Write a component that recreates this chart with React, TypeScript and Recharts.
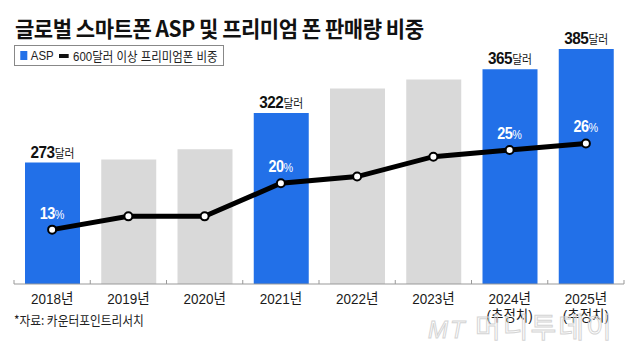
import {
  ComposedChart,
  Bar,
  Line,
  XAxis,
  YAxis,
  Cell,
  LabelList,
} from "recharts";

const years = ["2018년", "2019년", "2020년", "2021년", "2022년", "2023년", "2024년", "2025년"];
const yearNotes = ["", "", "", "", "", "", "(추정치)", "(추정치)"];
const aspValues = [273, 276, 286, 322, 346, 355, 365, 385];
const premiumShare = [13, 15, 15, 20, 21, 24, 25, 26];
const highlighted = [true, false, false, true, false, false, true, true];

const data = years.map((year, i) => ({
  year,
  asp: aspValues[i],
  share: premiumShare[i],
}));

const BLUE = "#2270e8";
const GRAY = "#d9d9d9";
const FONT = "'Liberation Sans', 'Noto Sans CJK KR', sans-serif";
const KFONT = "'Noto Sans CJK KR', sans-serif";

const YearTick = (props: any) => {
  const { x, y, index, width, visibleTicksCount, payload } = props;
  const band = width / visibleTicksCount;
  const last = index === visibleTicksCount - 1;
  return (
    <g>
      <line x1={x - band / 2} x2={x - band / 2} y1={y - 4} y2={y} stroke="#999" />
      {last && <line x1={x + band / 2} x2={x + band / 2} y1={y - 4} y2={y} stroke="#999" />}
      <g transform={`translate(${x},${y}) scale(0.9,1)`}>
        <text x={0} y={20} textAnchor="middle" fontSize={15} fill="#1a1a1a" fontFamily={FONT}>
          {payload.value}
        </text>
        {yearNotes[index] && (
          <text x={0} y={37} textAnchor="middle" fontSize={15} fill="#1a1a1a" fontFamily={FONT}>
            {yearNotes[index]}
          </text>
        )}
      </g>
    </g>
  );
};

const AspLabel = (props: any) => {
  const { x, y, width, index, value } = props;
  if (!highlighted[index]) return null;
  return (
    <g transform={`translate(${x + width / 2},${y - 5}) scale(0.9,1)`}>
      <text x={0} y={0} textAnchor="middle" fill="#111" fontFamily={FONT}>
        <tspan fontSize={17} fontWeight={700} letterSpacing={-0.5}>{value}</tspan>
        <tspan fontSize={12} fontFamily={KFONT}>달러</tspan>
      </text>
    </g>
  );
};

const ShareLabel = (props: any) => {
  const { x, y, index, value } = props;
  if (!highlighted[index]) return null;
  return (
    <g transform={`translate(${x},${y - 11}) scale(0.9,1)`}>
      <text x={0} y={0} textAnchor="middle" fill="#fff" fontFamily={FONT}>
        <tspan fontSize={16} fontWeight={600} letterSpacing={-0.5}>{value}</tspan>
        <tspan fontSize={12}>%</tspan>
      </text>
    </g>
  );
};

export default function App() {
  return (
    <div
      style={{
        position: "absolute",
        left: 0,
        top: 0,
        width: 640,
        height: 353,
        background: "#fff",
        overflow: "hidden",
        fontFamily: FONT,
      }}
    >
      <div
        style={{
          position: "absolute",
          left: 15,
          top: 16,
          fontSize: 22,
          lineHeight: "22px",
          fontWeight: 700,
          fontFamily: KFONT,
          color: "#111",
          whiteSpace: "nowrap",
          transform: "scaleX(0.955)",
          transformOrigin: "left top",
          letterSpacing: -0.5,
        }}
      >
        글로벌 스마트폰 ASP 및 프리미엄 폰 판매량 비중
      </div>
      <div
        style={{
          position: "absolute",
          left: 14,
          top: 45,
          width: 208,
          height: 19,
          border: "1px solid #888",
          display: "flex",
          alignItems: "center",
          fontSize: 13,
          color: "#222",
          whiteSpace: "nowrap",
        }}
      >
        <div style={{ display: "flex", alignItems: "center", transform: "scaleX(0.88)", transformOrigin: "left center" }}>
          <span style={{ display: "inline-block", width: 8, height: 9, background: BLUE, marginLeft: 6, marginRight: 4 }} />
          <span>ASP</span>
          <span style={{ display: "inline-block", width: 11, height: 4, background: "#111", marginLeft: 6, marginRight: 5 }} />
          <span style={{ fontFamily: FONT }}>600달러 이상 프리미엄폰 비중</span>
        </div>
      </div>
      <ComposedChart
        width={640}
        height={353}
        data={data}
        margin={{ top: 40, right: 16, left: 14, bottom: 39 }}
      >
        <XAxis
          dataKey="year"
          height={30}
          tickSize={0}
          tickMargin={0}
          tickLine={false}
          axisLine={{ stroke: "#999" }}
          tick={<YearTick />}
          interval={0}
        />
        <YAxis yAxisId="asp" hide domain={[153, 394]} type="number" />
        <YAxis yAxisId="share" hide orientation="right" domain={[4.8, 41.6]} type="number" />
        <Bar yAxisId="asp" dataKey="asp" barSize={55} isAnimationActive={false}>
          {data.map((d, i) => (
            <Cell key={d.year} fill={highlighted[i] ? BLUE : GRAY} />
          ))}
          <LabelList dataKey="asp" content={<AspLabel />} />
        </Bar>
        <Line
          yAxisId="share"
          dataKey="share"
          stroke="#000"
          strokeWidth={5}
          dot={{ r: 4, fill: "#fff", stroke: "#000", strokeWidth: 2 }}
          activeDot={false}
          isAnimationActive={false}
        >
          <LabelList dataKey="share" content={<ShareLabel />} />
        </Line>
      </ComposedChart>
      <div
        style={{
          position: "absolute",
          left: 14,
          top: 310,
          fontSize: 13,
          color: "#222",
          fontFamily: KFONT,
          transform: "scaleX(0.9)",
          transformOrigin: "left top",
          whiteSpace: "nowrap",
        }}
      >
        *자료: 카운터포인트리서치
      </div>
      <div
        style={{
          position: "absolute",
          left: 428,
          top: 306,
          fontSize: 28,
          color: "transparent",
          WebkitTextStroke: "1px #d4d4d4",
          fontFamily: KFONT,
          whiteSpace: "nowrap",
          letterSpacing: 2,
        }}
      >
        <span style={{ fontStyle: "italic", fontFamily: FONT, fontSize: 24 }}>MT</span> 머니투데이
      </div>
    </div>
  );
}
